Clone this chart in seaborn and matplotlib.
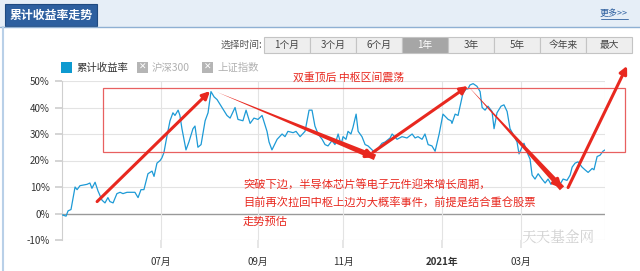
import matplotlib
matplotlib.use("Agg")
import matplotlib.pyplot as plt
import seaborn as sns
import pandas as pd
from matplotlib.patches import Rectangle

# ---------------- data (x = trading-day index, y = cumulative return %) ----------------
day_index = [0, 1.8, 2.7, 4, 5.8, 6.7, 8, 11.1, 12.4, 13.3, 14.7, 16, 17.8, 19.1, 20.4, 21.3,
             22.7, 24.4, 25.8, 27.1, 28.9, 32.4, 33.8, 35.1, 36.4, 38.2, 40, 40.9, 42.2, 43.6,
             44.4, 45.3, 46.7, 48, 49.3, 50.2, 51.6, 52.4, 53.3, 55.1, 56.4, 58.2, 59.1, 60.4,
             61.8, 63.6, 64.9, 66.2, 67.6, 68.9, 71.1, 73.3, 74.7, 76.9, 78.2, 80.4, 81.8, 83.6,
             85.3, 87.1, 88.9, 91.1, 92, 93.3, 95.6, 97.8, 99.1, 100.4, 102.7, 104, 105.8, 108,
             109.8, 111.1, 112.4, 113.8, 115.6, 116.9, 118.2, 120, 121.3, 122.7, 124, 124.9,
             126.2, 127.1, 128.4, 129.3, 130.7, 131.6, 133.3, 134.7, 136, 137.8, 139.1, 140.4,
             142.2, 143.6, 145.8, 146.7, 148.9, 151.1, 153.3, 155.6, 156.9, 158.2, 160, 161.3,
             162.7, 164.4, 165.8, 167.6, 169.3, 171.6, 172.9, 173.3, 174.7, 176, 177.3, 178.2,
             179.6, 180.4, 181.3, 182.7, 184.4, 185.8, 186.7, 188, 189.3, 191.1, 192, 193.3,
             195.1, 196.4, 197.8, 199.1, 200.4, 202.2, 203.1, 204.4, 205.3, 206.7, 208, 208.9,
             210.2, 211.6, 213.3, 214.7, 216, 217.3, 218.7, 220.4, 221.3, 222.7, 224.4, 225.8,
             226.7, 228, 229.3, 231.1, 232.4, 233.8, 235.6, 236.4, 237.8, 239.1, 240.4, 241.3]
cum_return = [-0.5, -1, 1, 1.5, 10, 9, 10.5, 11, 11.5, 9.5, 11.8, 8.5, 5, 4, 6, 4.5,
              4, 7.5, 8, 7.5, 8, 8, 6, 9, 9, 15, 16, 14, 19, 20,
              21, 23, 29.5, 35, 38, 37, 39, 37, 32, 24, 27, 32, 33, 25,
              26, 35, 38, 46, 44, 43, 40, 37, 36, 40, 35.5, 35, 39, 34,
              36, 35.5, 37, 31, 27, 24, 28, 30, 29, 31, 30.5, 31, 29, 31,
              39, 39, 33, 30, 28, 26, 25.5, 27.5, 26, 30, 26, 29,
              28, 31, 30, 32.5, 37.5, 31, 29, 26, 25.5, 24, 23, 24.5,
              26.5, 27, 28.5, 30, 28, 29, 28.5, 30, 28.5, 29, 28, 30,
              26, 25.5, 23.5, 30, 37.5, 35.5, 35, 34, 37.5, 37, 42, 45.5,
              47, 47, 48.5, 49, 48, 46, 40, 39, 40.5, 38.5, 32, 38,
              40.5, 41, 38.5, 32, 30, 27, 22.5, 25, 26.5, 23, 20.5, 14.5,
              13, 15, 13, 11.5, 13, 11, 12.5, 10.5, 11, 13, 12.5, 14.5,
              17.5, 19, 19.5, 17.5, 16.5, 15.5, 17, 16.5, 21.5, 22, 23.5, 24]

x_tick_pos = [44, 87, 125, 169, 204]
x_tick_labels = ["07月", "09月", "11月", "2021年", "03月"]
y_ticks = [-10, 0, 10, 20, 30, 40, 50]

buttons = ["1个月", "3个月", "6个月", "1年", "3年", "5年", "今年来", "最大"]
selected_button = "1年"
legend_items = ["累计收益率", "沪深300", "上证指数"]

# annotation geometry (data coords)
box_x = [18.2, 250.0]
box_y = [23.2, 47.5]
straight_arrows = [((15.6, 4.5), (65.8, 46.2)),
                   ((138.2, 23.1), (180.4, 48.1)),
                   ((224.9, 9.8), (251.1, 55.7))]
tapered_arrows = [((68.9, 45.8), (139.1, 21.2)),
                  ((180.4, 48.1), (222.2, 9.5))]
note_top = "双重顶后 中枢区间震荡"
note_lines = ["突破下边，半导体芯片等电子元件迎来增长周期，",
              "目前再次拉回中枢上边为大概率事件，前提是结合重仓股票",
              "走势预估"]

# ---------------- style ----------------
sns.set_theme(style="white")
plt.rcParams["font.family"] = ["Noto Sans CJK SC", "DejaVu Sans"]
plt.rcParams["axes.unicode_minus"] = False

W, H = 640, 271
fig = plt.figure(figsize=(W / 100, H / 100), dpi=100)
fig.patch.set_facecolor("white")


def fx(px):
    return px / W


def fy(py):
    return 1 - py / H


RED = "#e8281f"
BLUE = "#1d9ad6"

# header band
fig.patches.append(Rectangle((0, fy(27)), 1, 27 / H, transform=fig.transFigure,
                             facecolor="#e6eef7", edgecolor="none", zorder=0))
fig.patches.append(Rectangle((fx(5), fy(26)), fx(92), 22 / H, transform=fig.transFigure,
                             facecolor="#2d5f9f", edgecolor="#1f4a80", lw=0.8, zorder=1))
fig.text(fx(51), fy(15.5), "累计收益率走势", color="white", fontsize=8.6, fontweight="bold",
         ha="center", va="center")
fig.add_artist(plt.Line2D([0, 1], [fy(26.5), fy(26.5)], transform=fig.transFigure,
                          color="#8fb0d3", lw=1))
fig.add_artist(plt.Line2D([fx(3), fx(3)], [0, fy(27)], transform=fig.transFigure,
                          color="#b9d0e8", lw=1.5))
fig.text(fx(614), fy(13), "更多>>", color="#2d5f9f", fontsize=6.5, ha="center", va="center")
fig.add_artist(plt.Line2D([fx(601), fx(628)], [fy(19), fy(19)], transform=fig.transFigure,
                          color="#2d5f9f", lw=0.6))

# time buttons
fig.text(fx(262), fy(45), "选择时间:", color="#555555", fontsize=7, ha="right", va="center")
bx0, bw = 264, 46
for i, lab in enumerate(buttons):
    sel = lab == selected_button
    fig.patches.append(Rectangle((fx(bx0 + i * bw), fy(53)), bw / W, 16 / H,
                                 transform=fig.transFigure,
                                 facecolor="#a6a6a6" if sel else "#eeeeee",
                                 edgecolor="#c4c4c4", lw=0.8))
    fig.text(fx(bx0 + i * bw + bw / 2), fy(45), lab, color="white" if sel else "#444444",
             fontsize=7, ha="center", va="center")

# legend
fig.patches.append(Rectangle((fx(61), fy(73)), 11 / W, 11 / H, transform=fig.transFigure,
                             facecolor="#0e9ad0", edgecolor="none"))
fig.text(fx(76), fy(67.5), legend_items[0], color="#333333", fontsize=7.5, va="center")
for bxp, lab in [(137, legend_items[1]), (202, legend_items[2])]:
    fig.patches.append(Rectangle((fx(bxp), fy(73)), 11 / W, 11 / H, transform=fig.transFigure,
                                 facecolor="#b5b5b5", edgecolor="none"))
    fig.text(fx(bxp + 5.5), fy(67.5), "✕", color="white", fontsize=6.5, fontweight="bold",
             ha="center", va="center", family="DejaVu Sans")
    fig.text(fx(bxp + 15), fy(67.5), lab, color="#b0b0b0", fontsize=7.5, va="center")

# ---------------- main axes ----------------
ax = fig.add_axes([fx(62), fy(240), (605 - 62) / W, (240 - 81) / H])
ax.set_facecolor("white")
df = pd.DataFrame({"day": day_index, "ret": cum_return})
sns.lineplot(data=df, x="day", y="ret", ax=ax, color=BLUE, lw=0.9, zorder=3)

ax.set_xlim(0, 241.3)
ax.set_ylim(-10, 50)
ax.set_xlabel("")
ax.set_ylabel("")
for s in ["top", "right", "bottom"]:
    ax.spines[s].set_visible(False)
ax.spines["left"].set_color("#cfcfcf")
ax.spines["left"].set_linewidth(0.8)

for yv in y_ticks:
    ax.axhline(yv, color="#999999" if yv == 0 else "#e3e3e3",
               lw=1.0 if yv == 0 else 0.8, zorder=1)
for xv in x_tick_pos:
    ax.axvline(xv, color="#e3e3e3", lw=0.8, zorder=1)
ax.axvline(241.3, color="#e3e3e3", lw=0.8, zorder=1)

ax.set_yticks(y_ticks)
ax.set_yticklabels([f"{v}%" for v in y_ticks], fontsize=7, color="#333333")
ax.set_xticks(x_tick_pos)
ax.set_xticklabels(x_tick_labels, fontsize=7, color="#333333")
for t in ax.get_xticklabels():
    if t.get_text() == "2021年":
        t.set_fontweight("bold")
ax.tick_params(axis="y", length=5, color="#cfcfcf", pad=4, left=True)
ax.tick_params(axis="x", length=6, color="#e3e3e3", pad=6, bottom=True)

# annotations
ax.add_patch(Rectangle((box_x[0], box_y[0]), box_x[1] - box_x[0], box_y[1] - box_y[0],
                       fill=False, edgecolor="#e86060", lw=0.9, clip_on=False, zorder=4))
for (x0, y0), (x1, y1) in straight_arrows:
    ax.annotate("", xy=(x1, y1), xytext=(x0, y0), annotation_clip=False,
                arrowprops=dict(arrowstyle="-|>", color=RED, lw=2.2, mutation_scale=11,
                                shrinkA=0, shrinkB=0), zorder=5)
for (x0, y0), (x1, y1) in tapered_arrows:
    # tapered shaft: thick at the end, thin at the start
    ax.annotate("", xy=(x0, y0), xytext=(x1, y1), annotation_clip=False,
                arrowprops=dict(arrowstyle="wedge,tail_width=0.35,shrink_factor=0.5",
                                color=RED, lw=0, shrinkA=0, shrinkB=0), zorder=5)
    # arrow head at the end
    hx = x0 + (x1 - x0) * 0.9
    hy = y0 + (y1 - y0) * 0.9
    ax.annotate("", xy=(x1, y1), xytext=(hx, hy), annotation_clip=False,
                arrowprops=dict(arrowstyle="-|>", color=RED, lw=2.4, mutation_scale=12,
                                shrinkA=0, shrinkB=0), zorder=5)

fig.text(fx(293), fy(77), note_top, color=RED, fontsize=7.8, va="center")
for i, line in enumerate(note_lines):
    fig.text(fx(243), fy(185 + i * 18.5), line, color=RED, fontsize=8.1, va="center")

fig.text(fx(558), fy(238), "天天基金网", color="#d2d2d2", fontsize=10.5, ha="center",
         va="center", family=["Noto Serif CJK SC", "Noto Sans CJK SC"])

fig.savefig("out.png", dpi=100)
